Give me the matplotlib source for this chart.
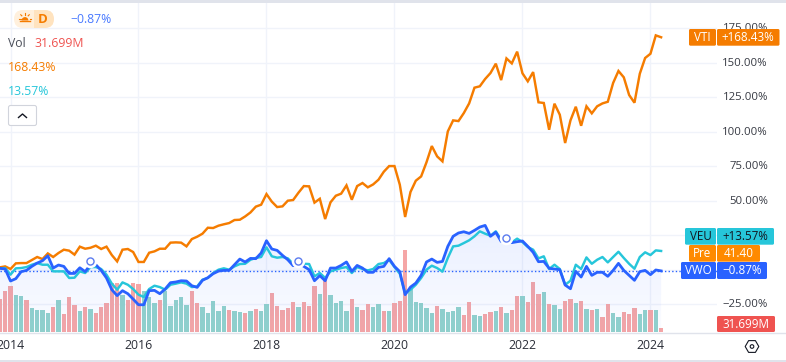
import numpy as np
import matplotlib
matplotlib.use("Agg")
import matplotlib.pyplot as plt
from matplotlib.patches import Rectangle, FancyBboxPatch, RegularPolygon, PathPatch, Wedge

plt.rcParams["font.family"] = ["Open Sans", "DejaVu Sans"]

# months counted from Jan 2014, one point per month
months = np.arange(-2, 123)

vti = [1.7, 2.4, 0.5, 4.6, 4.8, 4.8, 7.0, 9.2, 7.7, 11.8, 9.2, 12.1, 14.5, 13.8, 10.9, 16.7, 15.2, 15.9, 17.4, 15.0, 16.7, 10.6,
       6.0, 14.5, 15.0, 12.8, 5.6, 5.6, 12.3, 13.3, 15.2, 15.2, 19.6, 19.8, 19.6, 16.9, 22.2, 23.9, 26.1, 30.4, 30.2, 31.9, 32.9, 33.8,
       36.0, 36.2, 38.6, 41.5, 45.7, 47.1, 54.8, 49.3, 45.4, 45.9, 50.0, 50.5, 55.8, 60.6, 60.4, 48.6, 51.4, 36.7, 48.8, 53.6,
       55.1, 61.1, 50.7, 60.6, 62.8, 59.7, 61.8, 65.2, 71.0, 75.1, 75.1, 61.6, 38.2, 56.3, 64.5, 67.6, 77.8, 89.6, 82.1, 78.5,
       100.2, 108.2, 107.7, 113.5, 120.5, 131.9, 132.9, 138.2, 142.5, 149.3, 137.4, 153.1, 149.5, 158.0, 142.3, 136.5, 143.2,
       121.3, 120.8, 101.4, 120.3, 112.3, 91.8, 108.2, 118.1, 104.3, 118.4, 113.3, 118.4, 120.5, 121.7, 135.3, 144.0, 139.4,
       126.6, 121.0, 142.0, 153.4, 156.5, 169.8, 168.43]

veu = [1.0, 1.2, -3.6, 1.0, 1.2, 1.9, 3.6, 4.8, 3.6, 3.6, -1.2, -1.2, -1.2, -6.0, -5.8, -1.2, -2.4, 1.9, 1.9, 0.5, -3.6, -10.1,
       -14.5, -9.2, -10.9, -14.0, -18.1, -19.8, -14.0, -11.6, -12.6, -14.5, -10.9, -10.1, -9.2, -10.1, -12.6, -12.1, -7.2, -6.0,
       -2.4, 0.0, 1.0, 0.0,
       2.4, 4.1, 4.3, 7.2, 8.5, 9.2, 16.2, 9.7, 8.7, 9.2, 8.2, 4.3, 4.3, 4.3, 4.1, -4.8, -2.4, -6.0, -1.2, 0.0, 1.2, 1.9, -2.4,
       1.9, 0.5, -0.5, 0.5, 4.1, 4.8, 7.2, 1.9, -2.9, -16.9, -14.5, -10.9, -6.0, 0.0, 2.9, 1.2,
       -1.4, 8.5, 16.9, 17.4, 19.3, 21.3, 24.2, 27.8, 26.1, 24.6, 27.8, 21.7, 21.7, 19.8, 22.5, 20.0, 16.4, 14.5, 8.2, 9.7, 0.5,
       3.6, 0.5, -10.9, -8.0, 3.6, 0.5, 8.9, 4.3, 7.2, 9.2, 5.3, 9.2, 13.0, 8.5, 4.3, 0.7, 9.2, 12.6, 10.6, 14.0, 13.57]

vwo = [1.0, 0.5, -8.2, -6.5, -1.4, -0.5, 2.4, 4.8, 6.5, 10.1, 1.2, 3.4, 2.4, -2.7, -2.7, 1.4, -1.4, 3.6, 3.6, -0.5, -6.0, -14.5,
       -18.8, -15.2, -17.4, -21.3, -25.4, -25.4, -15.2, -15.0, -17.4, -14.0, -9.4, -8.9, -8.0, -8.2, -11.6, -12.8, -7.7, -5.8,
       -2.9, -1.0, -0.5, -0.5,
       3.6, 7.7, 5.6, 8.2, 8.0, 12.1, 21.0, 15.0, 14.0, 10.4, 7.2, 2.9, 4.8, 2.4, 0.0, -8.0, -4.3, -8.0, 1.2, 1.2, 3.1, 5.6, -1.2,
       3.1, 1.2, -1.9, -1.9, 1.7, 2.4, 8.0, 2.4, -1.4, -18.1, -12.6, -9.7, -4.1, 5.6, 7.7, 5.3,
       6.0, 16.9, 24.2, 26.6, 27.5, 26.3, 28.5, 30.9, 32.1, 24.2, 27.1, 20.5, 22.9, 19.6, 20.3, 20.8, 16.9, 12.6, 5.8, 6.0, 1.0,
       0.5, 0.0, -11.1, -13.8, -1.2, -5.3, 2.4, -4.1, -1.9, -1.9, -4.8, -0.5, 4.6, -0.5, -4.1, -7.7, -1.4, -0.5, -3.6, -0.2, -0.87]

# volume in millions, direction of each month
volume = [241, 297, 339, 273, 266, 237, 178, 158, 163, 141, 185, 237, 134, 258, 200, 156, 185, 171, 141, 185, 215, 361, 361, 273,
          237, 361, 354, 302, 258, 215, 237, 302, 193, 237, 258, 200, 302, 215, 185, 141, 229, 156, 193, 163,
          156, 149, 141, 156, 171, 156, 207, 288, 193, 163, 178, 222, 185, 222, 193, 339, 280, 383, 273, 215, 229, 156, 244, 185,
          163, 207, 185, 207, 156, 156, 215, 229, 602, 324, 222, 215, 178, 141, 193, 171,
          149, 156, 185, 127, 222, 127, 119, 134, 149, 156, 185, 141, 163, 266, 266, 222, 368, 280, 295, 207, 200, 171, 229, 244,
          215, 229, 171, 163, 171, 112, 207, 141, 112, 149, 134, 178, 134, 163, 163, 163, 31.7]
direction = ("rrrggrggggrgrrrgrgrrrrrgrrrgggrgggggrrgggggr"
             "ggrgrggrrrrrgrrrgrggggrgrrggrgrrrgggggrg"
             "gggrrggrrgrgrrgrrrgrggrrgrgrgrrggrrrggrgr")

div_months = [15, 54, 93]
div_values = [6.5, 6.0, 22.9]

year_ticks = [0, 24, 48, 72, 96, 120]
year_labels = ["2014", "2016", "2018", "2020", "2022", "2024"]
pct_ticks = [175, 150, 125, 100, 75, 50, 25, 0, -25]
pct_labels = ["175.00%", "150.00%", "125.00%", "100.00%", "75.00%", "50.00%", "", "", "\u221225.00%"]

ORANGE = "#F57C00"
TEAL = "#26C6DA"
BLUE = "#2962FF"
RED = "#EF5350"
GRID = "#F0F3FA"
TEXT = "#131722"

W, H = 786, 362
fig = plt.figure(figsize=(W / 100, H / 100), dpi=100)

# main pane spans px 0-717 across and px 3-332 down
ax = fig.add_axes([0, 1 - 332 / H, 717 / W, 329 / H])
ax.set_xlim((0 - 10.5) / 5.333, (717 - 10.5) / 5.333)
ax.set_ylim((269.7 - 332) / 1.38, (269.7 - 3) / 1.38)
ax.set_xticks(year_ticks)
ax.set_yticks(pct_ticks)
ax.tick_params(length=0, labelbottom=False, labelleft=False)
ax.grid(True, color=GRID, lw=1)
ax.set_axisbelow(True)
for s in ax.spines.values():
    s.set_visible(False)

# volume sits on its own scale at the bottom
vol_ax = ax.twinx()
vol_ax.set_ylim(0, 329 * 7.3)
vol_ax.axis("off")
bar_colors = ["#92D2CC" if d == "g" else "#F5A6A6" for d in direction]
vol_ax.bar(months, volume, width=0.84, color=bar_colors, linewidth=0, zorder=1)

# lines go in an axes above the bars
top = fig.add_axes(ax.get_position(), sharex=ax, sharey=ax)
top.patch.set_alpha(0)
top.axis("off")

# area under VWO, fading downwards
poly = top.fill_between(months, vwo, ax.get_ylim()[0], color="none")
grad = np.zeros((100, 2, 4))
grad[..., :3] = matplotlib.colors.to_rgb(BLUE)
grad[..., 3] = np.linspace(0.10, 0.02, 100)[:, None]
img = top.imshow(grad, extent=[months[0], months[-1], ax.get_ylim()[0], 33], aspect="auto", origin="upper", zorder=1)
clip = poly.get_paths()[0]
img.set_clip_path(PathPatch(clip, transform=top.transData))
top.set_xlim(ax.get_xlim())
top.set_ylim(ax.get_ylim())

top.axhline(vwo[-1], color=BLUE, lw=1, ls=(0, (1, 1.6)), zorder=2)
top.plot(months, vti, color=ORANGE, lw=1.75, solid_joinstyle="miter", zorder=3)
top.plot(months, veu, color=TEAL, lw=1.75, zorder=4)
top.plot(months, vwo, color=BLUE, lw=2.0, zorder=5)
top.scatter(div_months, div_values, s=95, color="white", linewidths=0, zorder=6)
top.scatter(div_months, div_values, s=26, facecolor="white", edgecolor="#5B7BEF", linewidths=1, zorder=7)

# chrome in pixel coordinates
ui = fig.add_axes([0, 0, 1, 1])
ui.set_xlim(0, W)
ui.set_ylim(H, 0)
ui.axis("off")
ui.patch.set_alpha(0)

ui.add_patch(Rectangle((0, 0), W, 3, color="#E0E3EB", lw=0))
ui.add_patch(Rectangle((0, 360), W, 2, color="#E0E3EB", lw=0))
ui.plot([0, W], [332.5, 332.5], color="#E0E3EB", lw=1)

for t, lab in zip(pct_ticks, pct_labels):
    ui.text(768, 269.7 - 1.38 * t + 0.5, lab, ha="right", va="center", fontsize=8.2, color=TEXT, alpha=0.85)
for t, lab in zip(year_ticks, year_labels):
    ui.text(10.5 + 5.333 * t, 345.5, lab, ha="center", va="center", fontsize=8.8, color=TEXT, alpha=0.9, clip_on=True)


def tag(x0, x1, y0, y1, txt, bg, fg="white", radius=1.5):
    ui.add_patch(FancyBboxPatch((x0 + radius, y0 + radius), x1 - x0 - 2 * radius, y1 - y0 - 2 * radius,
                                boxstyle=f"round,pad={radius},rounding_size={radius}", fc=bg, ec="none", zorder=10))
    ui.text((x0 + x1) / 2, (y0 + y1) / 2 + 0.2, txt, ha="center", va="center", fontsize=8.4, color=fg, zorder=11)


tag(689, 716, 29, 45.7, "VTI", ORANGE)
tag(717, 779.5, 29, 45.7, "+168.43%", ORANGE)
tag(685, 716, 228, 244.7, "VEU", TEAL, fg=TEXT)
tag(717, 774, 228, 244.7, "+13.57%", TEAL, fg=TEXT)
tag(689, 716, 245, 261.7, "Pre", "#FF8A00")
tag(717, 760, 245, 261.7, "41.40", "#FF8A00")
tag(681, 716, 262, 279, "VWO", BLUE)
tag(717, 767, 262, 279, "\u22120.87%", BLUE)
tag(717, 775, 316, 332, "31.699M", RED)

# legend at top left
ui.add_patch(FancyBboxPatch((14, 10), 20, 18, boxstyle="round,pad=0,rounding_size=9", fc="#FFF0DD", ec="none"))
ui.add_patch(Rectangle((24, 10), 10, 18, fc="#FFF0DD", ec="none"))
ui.add_patch(FancyBboxPatch((34, 10), 20, 18, boxstyle="round,pad=0,rounding_size=9", fc="#FFE3BF", ec="none"))
ui.add_patch(Rectangle((34, 10), 10, 18, fc="#FFE3BF", ec="none"))
ui.add_patch(Wedge((25, 20.5), 3.4, 180, 360, fc=ORANGE, ec="none"))
ui.plot([20, 30], [20.8, 20.8], color=ORANGE, lw=1)
for ang in [0, 45, 90, 135, 180]:
    a = np.radians(ang)
    ui.plot([25 + 4.5 * np.cos(a), 25 + 6 * np.cos(a)], [19 - 4.5 * np.sin(a), 19 - 6 * np.sin(a)], color=ORANGE, lw=0.8)
ui.text(43, 19.3, "D", ha="center", va="center", fontsize=9.5, color=ORANGE, fontweight="bold")
ui.text(70, 19.5, "\u22120.87%", ha="left", va="center", fontsize=8.8, color=BLUE, alpha=0.85)
ui.text(8, 43.5, "Vol", ha="left", va="center", fontsize=8.8, color="#4A4E59")
ui.text(34, 43.5, "31.699M", ha="left", va="center", fontsize=8.8, color=RED)
ui.text(8, 67.5, "168.43%", ha="left", va="center", fontsize=8.8, color=ORANGE)
ui.text(8, 91.5, "13.57%", ha="left", va="center", fontsize=8.8, color=TEAL)

ui.add_patch(FancyBboxPatch((8.5, 105.5), 28, 20, boxstyle="round,pad=0,rounding_size=2", fc="white", ec="#D1D4DC", lw=0.8))
ui.plot([18.5, 22.5, 26.5], [117.5, 114, 117.5], color=TEXT, lw=1)

# settings hexagon
ui.add_patch(RegularPolygon((752, 346.5), 6, radius=6.8, orientation=np.pi / 2, fc="none", ec=TEXT, lw=0.8))
ui.add_patch(plt.Circle((752, 346.5), 1.8, fc="none", ec=TEXT, lw=0.8))

fig.savefig("out.png", dpi=100)
